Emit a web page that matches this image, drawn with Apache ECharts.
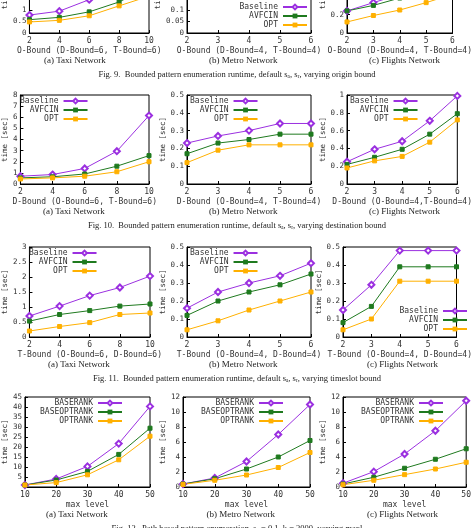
<!DOCTYPE html>
<html><head><meta charset="utf-8">
<script src="https://cdn.jsdelivr.net/npm/echarts@6/dist/echarts.min.js"></script>
<style>html,body{margin:0;background:#fff;overflow:hidden;width:474px;height:528px}#c{width:474px;height:600px;margin-top:-72px}</style>
</head><body><div id="c"></div>
<script>
const OFF = 72;
const xBound6 = [2,3,4,5,6];
const xBound10 = [2,4,6,8,10];
const xLevel = [10,20,30,40,50];
const namesA = ['Baseline','AVFCIN','OPT'];
const namesB = ['BASERANK','BASEOPTRANK','OPTRANK'];
// Fig 9
const f9Taxi = [[0.78,0.95,1.45,2.2,3.5],[0.58,0.68,0.92,1.35,2.0],[0.48,0.55,0.75,1.18,1.6]];
const f9Metro = [[0.22,0.26,0.3,0.32,0.34],[0.18,0.22,0.25,0.27,0.28],[0.16,0.19,0.21,0.22,0.22]];
const f9Flights = [[0.24,0.33,0.42,0.55,0.75],[0.24,0.3,0.38,0.48,0.62],[0.12,0.19,0.25,0.33,0.42]];
// Fig 10
const f10Taxi = [[0.7,0.85,1.4,2.95,6.15],[0.55,0.65,0.9,1.6,2.55],[0.45,0.55,0.7,1.1,2.0]];
const f10Metro = [[0.23,0.27,0.30,0.34,0.34],[0.17,0.23,0.25,0.28,0.28],[0.12,0.19,0.22,0.22,0.22]];
const f10Flights = [[0.25,0.39,0.48,0.71,0.99],[0.22,0.30,0.39,0.56,0.79],[0.18,0.26,0.31,0.47,0.72]];
// Fig 11
const f11Taxi = [[0.7,1.03,1.38,1.65,2.03],[0.53,0.75,0.88,1.03,1.1],[0.2,0.35,0.48,0.75,0.8]];
const f11Metro = [[0.16,0.25,0.30,0.34,0.41],[0.12,0.20,0.25,0.29,0.35],[0.04,0.09,0.15,0.20,0.25]];
const f11Flights = [[0.15,0.29,0.48,0.48,0.48],[0.08,0.17,0.39,0.39,0.39],[0.04,0.10,0.31,0.31,0.31]];
// Fig 12
const f12Taxi = [[1,4,10.3,21.7,40.3],[1,3.5,7.8,16.3,29.4],[1,2.2,6.1,13.6,25.4]];
const f12Metro = [[0.4,1.2,3.4,7.0,11],[0.4,1.1,2.4,4.0,6.2],[0.35,0.9,1.6,2.6,4.6]];
const f12Flights = [[0.5,2.05,4.4,7.5,11.5],[0.4,1.3,2.5,3.7,5.1],[0.3,0.9,1.65,2.4,3.3]];

const xlab9 = ['O-Bound (D-Bound=6, T-Bound=6)','O-Bound (D-Bound=4, T-Bound=4)','O-Bound (D-Bound=4, T-Bound=4)'];
const xlab10 = ['D-Bound (O-Bound=6, T-Bound=6)','D-Bound (O-Bound=4, T-Bound=4)','D-Bound (O-Bound=4,T-Bound=4)'];
const xlab11 = ['T-Bound (O-Bound=6, D-Bound=6)','T-Bound (O-Bound=4, D-Bound=4)','T-Bound (O-Bound=4, D-Bound=4)'];
const xlab12 = ['max level','max level','max level'];
const captions = ['(a) Taxi Network','(b) Metro Network','(c) Flights Network'];
const figTitles = ['Fig. 9.  Bounded pattern enumeration runtime, default s\u2090, s\u1D63, varying origin bound',
 'Fig. 10.  Bounded pattern enumeration runtime, default s\u2090, s\u1D63, varying destination bound',
 'Fig. 11.  Bounded pattern enumeration runtime, default s\u2090, s\u1D63, varying timeslot bound',
 'Fig. 12.  Path based pattern enumeration, s\u2090 = 0.1, k = 2000, varying maxl'];

const colors = ['#9b30e0','#1f7a1f','#ffb000'];
const symbols = ['emptyDiamond','rect','rect'];
const mono = 'DejaVu Sans Mono';

const rows = [
 {top:-59, h:92, xs:[xBound10,xBound6,xBound6], data:[f9Taxi,f9Metro,f9Flights], ymax:[4,0.4,1], yint:[0.5,0.05,0.2], xl:xlab9, names:namesA, lefts:[[19,130],[187,124],[347,124]], leg:[null,'br',null]},
 {top:95, h:89, xs:[xBound10,xBound6,xBound6], data:[f10Taxi,f10Metro,f10Flights], ymax:[8,0.5,1], yint:[1,0.1,0.2], xl:xlab10, names:namesA, lefts:[[17,132],[187,124],[347,124]], leg:['tl','tl','tl']},
 {top:247, h:90, xs:[xBound10,xBound6,xBound6], data:[f11Taxi,f11Metro,f11Flights], ymax:[3,0.5,0.5], yint:[0.5,0.1,0.1], xl:xlab11, names:namesA, lefts:[[26,124],[187,124],[343,128]], leg:['tl','tl','br']},
 {top:397, h:90, xs:[xLevel,xLevel,xLevel], data:[f12Taxi,f12Metro,f12Flights], ymax:[45,12,12], yint:[5,2,2], xl:xlab12, names:namesB, lefts:[[22,128],[183,127],[343,128]], leg:['tl','tl','tl']}
];
const grid=[],xAxis=[],yAxis=[],series=[],legend=[],graphic=[];
let gi=0;
rows.forEach((r,ri)=>{
  const top=r.top+OFF;
  for(let c=0;c<3;c++){
    const [l,w]=r.lefts[c];
    grid.push({left:l,top:top,width:w,height:r.h,show:true,borderColor:'#000',borderWidth:1,backgroundColor:'transparent'});
    const xs=r.xs[c];
    const fmt=v=>(ri==3&&c==0&&v==0)?'':String(+v.toFixed(2));
    let maxc=0; for(let v=0;v<=r.ymax[c]+1e-9;v+=r.yint[c]) maxc=Math.max(maxc,fmt(v).length);
    const gap=Math.min(maxc*4.3+5, l-9);
    xAxis.push({type:'value',gridIndex:gi,min:xs[0],max:xs[4],interval:(xs[4]-xs[0])/4,
      name:r.xl[c],nameLocation:'middle',nameGap:14,nameTextStyle:{fontFamily:mono,fontSize:8,color:'#333'},
      axisLine:{lineStyle:{color:'#000'}},axisTick:{inside:true,length:3,lineStyle:{color:'#000'}},
      axisLabel:{fontFamily:mono,fontSize:8,color:'#333',margin:4},splitLine:{show:false}});
    yAxis.push({type:'value',gridIndex:gi,min:0,max:r.ymax[c],interval:r.yint[c],
      name:'time [sec]',nameLocation:'middle',nameGap:gap,nameTextStyle:{fontFamily:mono,fontSize:7.5,color:'#333'},
      axisLine:{lineStyle:{color:'#000'}},axisTick:{inside:true,length:3,lineStyle:{color:'#000'}},
      axisLabel:{fontFamily:mono,fontSize:7.5,color:'#333',margin:3,formatter:fmt},splitLine:{show:false}});
    for(let s=0;s<3;s++){
      series.push({type:'line',name:r.names[s],xAxisIndex:gi,yAxisIndex:gi,
        data:xs.map((x,k)=>[x,r.data[c][s][k]]),symbol:symbols[s],symbolSize:s==0?6:4,
        lineStyle:{width:1,color:colors[s]},itemStyle:{color:colors[s],borderColor:colors[s]},animation:false});
    }
    if(r.leg[c]){
      const lg={orient:'vertical',align:'right',itemWidth:24,itemHeight:6,itemGap:1,padding:0,
        textStyle:{fontFamily:mono,fontSize:8,color:'#333'},data:r.names,selectedMode:false};
      if(r.leg[c]=='tl'){lg.left=l+(ri==3?18:3); lg.top=top+2;}
      else {lg.right=474-(l+w)+3; lg.top=top+r.h-30;}
      legend.push(lg);
    }
    graphic.push({type:'text',left:l+w/2-40,top:top+r.h+23,style:{text:captions[c],font:'9px "Liberation Serif"',fill:'#222'}});
    gi++;
  }
  graphic.push({type:'text',left:'center',top:top+r.h+37,style:{text:figTitles[ri],font:'8.5px "Liberation Serif"',fill:'#222'}});
});
const ch=echarts.init(document.getElementById('c'));
ch.setOption({animation:false,grid,xAxis,yAxis,series,legend,graphic});
</script></body></html>
